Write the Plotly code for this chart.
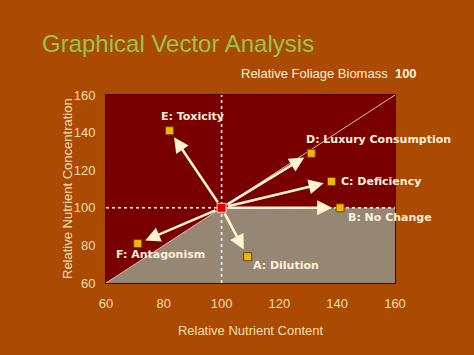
import plotly.graph_objects as go

labels = ["A: Dilution", "B: No Change", "C: Deficiency", "D: Luxury Consumption", "E: Toxicity", "F: Antagonism"]
content = [109, 141, 138, 131, 82, 71]
concentration = [74, 100, 114, 129, 141, 81]
origin_x = [100]
origin_y = [100]
tick_vals = [60, 80, 100, 120, 140, 160]

BG = "#AB4A02"
PLOT = "#780000"
GRAY = "#958774"
CREAM = "#FFF3D2"
TXT = "#F5DFB0"
FONT = "Liberation Sans"
LFONT = "DejaVu Sans"

fig = go.Figure()

# gray region below diagonal and below y=100
fig.add_trace(go.Scatter(x=[60, 100, 160, 160, 60], y=[60, 100, 100, 60, 60],
                         fill="toself", fillcolor=GRAY, mode="lines",
                         line=dict(width=0), hoverinfo="skip", showlegend=False))
# diagonal
fig.add_trace(go.Scatter(x=[60, 160], y=[60, 160], mode="lines",
                         line=dict(color="#E8B8A8", width=1), hoverinfo="skip", showlegend=False))
# dotted reference lines
fig.add_trace(go.Scatter(x=[100, 100], y=[60, 160], mode="lines",
                         line=dict(color="#FFFFFF", width=1.5, dash="dot"), hoverinfo="skip", showlegend=False))
fig.add_trace(go.Scatter(x=[60, 160], y=[100, 100], mode="lines",
                         line=dict(color="#FFFFFF", width=1.5, dash="dot"), hoverinfo="skip", showlegend=False))

# arrows
for x, y in zip(content, concentration):
    fig.add_annotation(x=x, y=y, ax=origin_x[0], ay=origin_y[0], xref="x", yref="y",
                       axref="x", ayref="y", text="", showarrow=True,
                       arrowhead=2, arrowsize=1.15, arrowwidth=2.6, arrowcolor=CREAM,
                       standoff=8, startstandoff=5)

# markers
fig.add_trace(go.Scatter(x=content, y=concentration, mode="markers",
                         marker=dict(symbol="square", size=8, color="#F2B705",
                                     line=dict(color="#6B4A00", width=1)),
                         hoverinfo="skip", showlegend=False))
fig.add_trace(go.Scatter(x=origin_x, y=origin_y, mode="markers",
                         marker=dict(symbol="square", size=9, color="#E80000",
                                     line=dict(color="#FFD0C0", width=1)),
                         hoverinfo="skip", showlegend=False))

# labels
label_pos = {
    "A: Dilution": (3, -9),
    "B: No Change": (6, -10),
    "C: Deficiency": (8, 0),
    "D: Luxury Consumption": (-7, 14),
    "E: Toxicity": (-11, 14),
    "F: Antagonism": (-24, -11),
}
for lab, x, y in zip(labels, content, concentration):
    dx, dy = label_pos[lab]
    fig.add_annotation(x=x, y=y, xref="x", yref="y", text=f"<b>{lab}</b>", showarrow=False,
                       xanchor="left", yanchor="middle", xshift=dx, yshift=dy,
                       font=dict(family=LFONT, size=11, color="#FFF0D8"))

fig.add_annotation(x=0, y=1, xref="paper", yref="paper", xshift=-66, yshift=52,
                   text="Graphical Vector Analysis", showarrow=False, xanchor="left", yanchor="middle",
                   font=dict(family=FONT, size=24, color="#96C454"))
fig.add_annotation(x=1, y=1, xref="paper", yref="paper", xshift=24, yshift=22,
                   text="Relative Foliage Biomass  <b>100</b>", showarrow=False, xanchor="right", yanchor="middle",
                   font=dict(family=FONT, size=13, color="#FFF0D8"))
# y-axis title
fig.add_annotation(x=0, y=0.5, xref="paper", yref="paper", xshift=-39,
                   text="Relative Nutrient Concentration", showarrow=False, textangle=-90,
                   xanchor="center", yanchor="middle",
                   font=dict(family=FONT, size=13, color=TXT))

fig.update_layout(
    width=474, height=355,
    margin=dict(l=106, r=79, t=95, b=72),
    paper_bgcolor=BG, plot_bgcolor=PLOT,
    font=dict(family=FONT, color=TXT, size=13),
    showlegend=False,
)
fig.update_xaxes(range=[60, 160], tickvals=tick_vals, showgrid=False, zeroline=False,
                 showline=True, linecolor="#5A0000", linewidth=1, mirror=True,
                 ticks="outside", ticklen=8, tickcolor=BG,
                 tickfont=dict(size=13, color=TXT),
                 title=dict(text="Relative Nutrient Content", font=dict(size=13, color=TXT), standoff=16))
fig.update_yaxes(range=[60, 160], tickvals=tick_vals, showgrid=False, zeroline=False,
                 showline=True, linecolor="#5A0000", linewidth=1, mirror=True,
                 ticks="outside", ticklen=7, tickcolor=BG,
                 tickfont=dict(size=13, color=TXT))

fig.write_html("out.html", config={"displayModeBar": False},
               post_script="document.body.style.margin='0';document.body.style.background='%s';" % BG)
